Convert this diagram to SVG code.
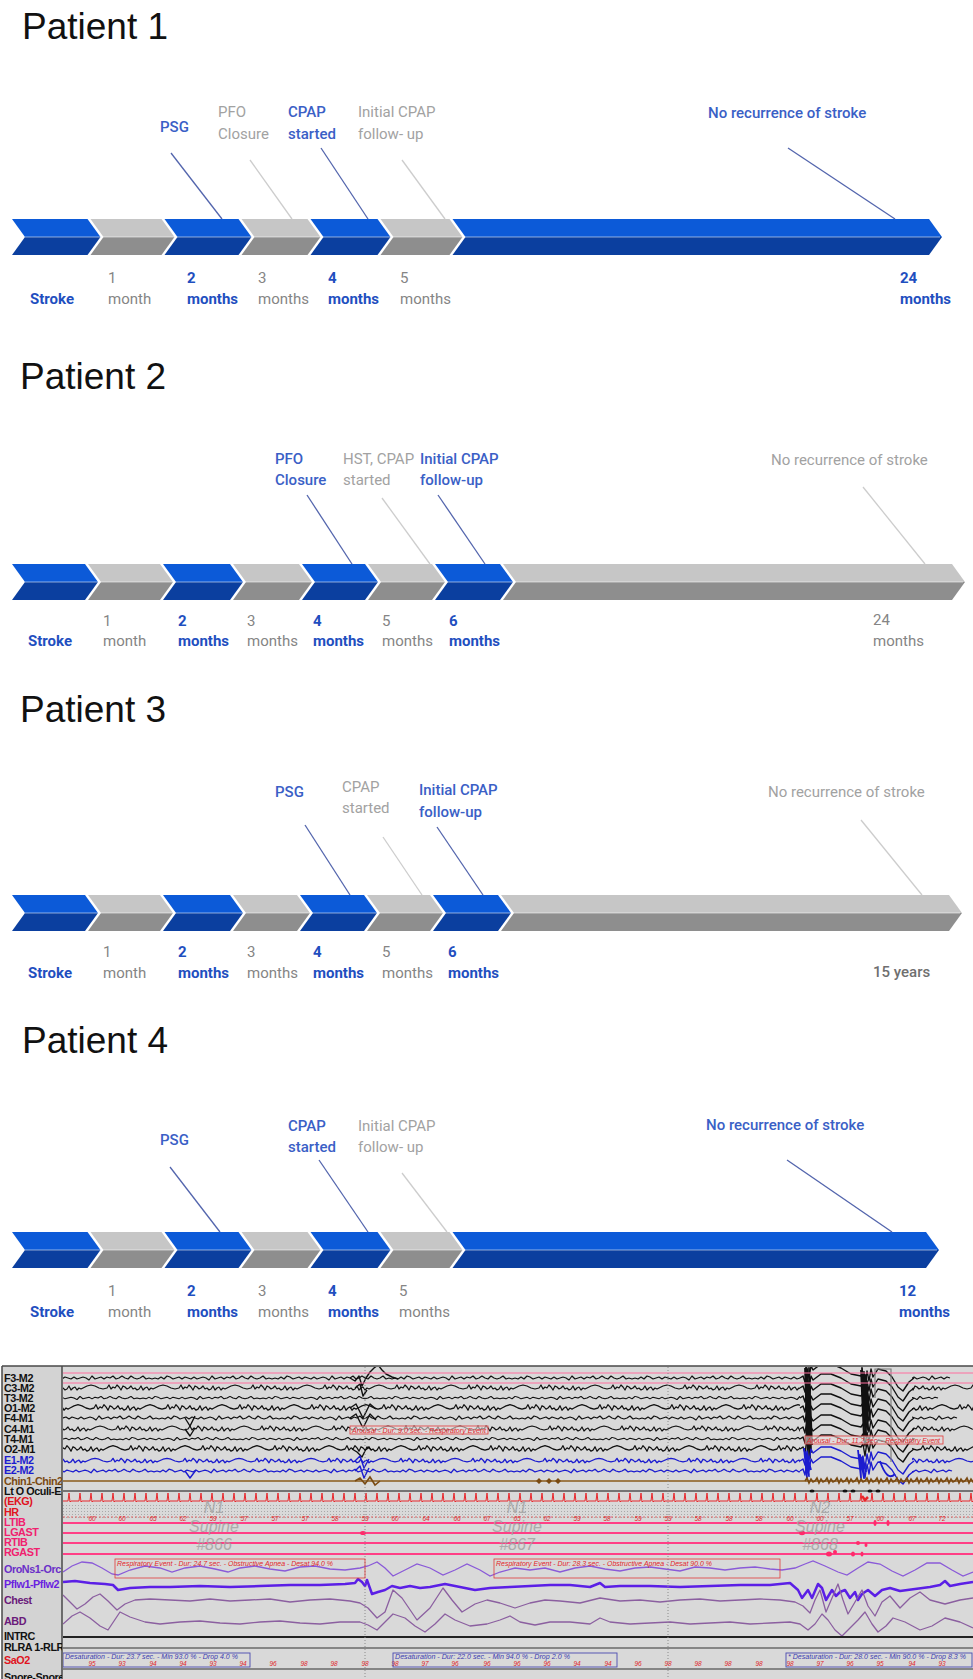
<svg xmlns="http://www.w3.org/2000/svg" width="973" height="1679" viewBox="0 0 973 1679">
<style>
.t{font-family:"Liberation Sans",Arial,sans-serif;font-size:37px;fill:#111}
.lab{font-family:Roboto,"Liberation Sans",Arial,sans-serif;font-size:15px}
.bb{fill:#1f4fbf;font-weight:bold}
.bg{fill:#858585}
.tb{fill:#3a60c6;font-weight:500}
.tg{fill:#a2a2a2}
.bu{fill:#0c5ad8}.bl{fill:#0b3f9f}.gu{fill:#c6c6c6}.gl{fill:#8e8e8e}
.mid{stroke:#fff;stroke-opacity:.55;stroke-width:1.2;fill:none}
.lnb{stroke:#5365ad;stroke-width:1.3;fill:none}
.lng{stroke:#cdcdcd;stroke-width:1.3;fill:none}
.ch{font-family:"Liberation Sans",Arial,sans-serif;font-size:10.8px;font-weight:bold;letter-spacing:-0.45px}
.sm{font-family:"Liberation Sans",Arial,sans-serif;font-size:6.5px;font-style:italic}
.num{fill:#e0262b;text-anchor:middle}
.st{font-family:"Liberation Sans",Arial,sans-serif;font-size:16px;font-style:italic;fill:#a3a3a3;text-anchor:middle;opacity:.85}
.k{stroke:#111;fill:none;stroke-width:1.2;stroke-linejoin:round}
.bk{stroke:#111;fill:none;stroke-width:1.4;stroke-linejoin:round}
.bl2{stroke:#1c1ccf;fill:none;stroke-width:1.4;stroke-linejoin:round}
.pk{stroke:#ff3f86;stroke-width:1.8;fill:none}
.pur{fill:none;stroke:#8b5fa0;stroke-width:1.3;stroke-linejoin:round}
</style>
<defs>
<path id="eeg" d="M0,0 l3,-2 3,3 3,-1 3,-2 3,2 3,1 3,-3 3,2 3,1 3,-1 3,-2 3,3 3,-1 3,1 3,-1 l3,1 3,-2 3,2 3,-3 3,1 3,2 3,-1 3,-1 3,2 3,-2 3,1 3,1 3,-2 3,2 3,-1 l3,-1 3,1 3,2 3,-4 3,3 3,-1 3,-1 3,2 3,-2 3,1 l3,-2 3,3 3,-1 3,-2 3,2 3,1 3,-3 3,2 3,1 3,-1 3,-2 3,3 3,-1 3,1 3,-1 l3,1 3,-2 3,2 3,-3 3,1 3,2 3,-1 3,-1 3,2 3,-2 3,1 3,1 3,-2 3,2 3,-1 l3,-1 3,1 3,2 3,-4 3,3 3,-1 3,-1 3,2 3,-2 3,1 l3,-2 3,3 3,-1 3,-2 3,2 3,1 3,-3 3,2 3,1 3,-1 3,-2 3,3 3,-1 3,1 3,-1 l3,1 3,-2 3,2 3,-3 3,1 3,2 3,-1 3,-1 3,2 3,-2 3,1 3,1 3,-2 3,2 3,-1 l3,-1 3,1 3,2 3,-4 3,3 3,-1 3,-1 3,2 3,-2 3,1 l3,-2 3,3 3,-1 3,-2 3,2 3,1 3,-3 3,2 3,1 3,-1 3,-2 3,3 3,-1 3,1 3,-1 l3,1 3,-2 3,2 3,-3 3,1 3,2 3,-1 3,-1 3,2 3,-2 3,1 3,1 3,-2 3,2 3,-1 l3,-1 3,1 3,2 3,-4 3,3 3,-1 3,-1 3,2 3,-2 3,1 l3,-2 3,3 3,-1 3,-2 3,2 3,1 3,-3 3,2 3,1 3,-1 3,-2 3,3 3,-1 3,1 3,-1 l3,1 3,-2 3,2 3,-3 3,1 3,2 3,-1 3,-1 3,2 3,-2 3,1 3,1 3,-2 3,2 3,-1 l3,-1 3,1 3,2 3,-4 3,3 3,-1 3,-1 3,2 3,-2 3,1 l3,-2 3,3 3,-1 3,-2 3,2 3,1 3,-3 3,2 3,1 3,-1 3,-2 3,3 3,-1 3,1 3,-1 l3,1 3,-2 3,2 3,-3 3,1 3,2 3,-1 3,-1 3,2 3,-2 3,1 3,1 3,-2 3,2 3,-1 l3,-1 3,1 3,2 3,-4 3,3 3,-1 3,-1 3,2 3,-2 3,1 l3,-2 3,3 3,-1 3,-2 3,2 3,1 3,-3 3,2 3,1 3,-1 3,-2 3,3 3,-1 3,1 3,-1 l3,1 3,-2 3,2 3,-3 3,1 3,2 3,-1 3,-1 3,2 3,-2 3,1 3,1 3,-2 3,2 3,-1 l3,-1 3,1 3,2 3,-4 3,3 3,-1 3,-1 3,2 3,-2 3,1 l3,-2 3,3 3,-1 3,-2 3,2 3,1 3,-3 3,2 3,1 3,-1 3,-2 3,3 3,-1 3,1 3,-1 l3,1 3,-2 3,2 3,-3 3,1 3,2 3,-1 3,-1 3,2 3,-2 3,1 3,1 3,-2 3,2 3,-1 l3,-1 3,1 3,2 3,-4 3,3 3,-1 3,-1 3,2 3,-2 3,1"/>
<path id="eeg2" d="M0,0 l2,-3 2,4 2,-2 2,1 2,-3 2,2 2,3 2,-4 2,1 2,2 2,-1 2,-2 2,3 2,-1 l2,2 2,-1 2,-3 2,4 2,-2 2,-1 2,3 2,-2 2,1 2,-1 l4,-2 4,-1 4,1 4,2 4,1 4,-1 l2,-3 2,4 2,-2 2,1 2,-3 2,2 2,3 2,-4 2,1 2,2 2,-1 2,-2 2,3 2,-1 l2,2 2,-1 2,-3 2,4 2,-2 2,-1 2,3 2,-2 2,1 2,-1 l4,-2 4,-1 4,1 4,2 4,1 4,-1 l2,-3 2,4 2,-2 2,1 2,-3 2,2 2,3 2,-4 2,1 2,2 2,-1 2,-2 2,3 2,-1 l2,2 2,-1 2,-3 2,4 2,-2 2,-1 2,3 2,-2 2,1 2,-1 l4,-2 4,-1 4,1 4,2 4,1 4,-1 l2,-3 2,4 2,-2 2,1 2,-3 2,2 2,3 2,-4 2,1 2,2 2,-1 2,-2 2,3 2,-1 l2,2 2,-1 2,-3 2,4 2,-2 2,-1 2,3 2,-2 2,1 2,-1 l4,-2 4,-1 4,1 4,2 4,1 4,-1 l2,-3 2,4 2,-2 2,1 2,-3 2,2 2,3 2,-4 2,1 2,2 2,-1 2,-2 2,3 2,-1 l2,2 2,-1 2,-3 2,4 2,-2 2,-1 2,3 2,-2 2,1 2,-1 l4,-2 4,-1 4,1 4,2 4,1 4,-1 l2,-3 2,4 2,-2 2,1 2,-3 2,2 2,3 2,-4 2,1 2,2 2,-1 2,-2 2,3 2,-1 l2,2 2,-1 2,-3 2,4 2,-2 2,-1 2,3 2,-2 2,1 2,-1 l4,-2 4,-1 4,1 4,2 4,1 4,-1 l2,-3 2,4 2,-2 2,1 2,-3 2,2 2,3 2,-4 2,1 2,2 2,-1 2,-2 2,3 2,-1 l2,2 2,-1 2,-3 2,4 2,-2 2,-1 2,3 2,-2 2,1 2,-1 l4,-2 4,-1 4,1 4,2 4,1 4,-1 l2,-3 2,4 2,-2 2,1 2,-3 2,2 2,3 2,-4 2,1 2,2 2,-1 2,-2 2,3 2,-1 l2,2 2,-1 2,-3 2,4 2,-2 2,-1 2,3 2,-2 2,1 2,-1 l4,-2 4,-1 4,1 4,2 4,1 4,-1 l2,-3 2,4 2,-2 2,1 2,-3 2,2 2,3 2,-4 2,1 2,2 2,-1 2,-2 2,3 2,-1 l2,2 2,-1 2,-3 2,4 2,-2 2,-1 2,3 2,-2 2,1 2,-1 l4,-2 4,-1 4,1 4,2 4,1 4,-1 l2,-3 2,4 2,-2 2,1 2,-3 2,2 2,3 2,-4 2,1 2,2 2,-1 2,-2 2,3 2,-1 l2,2 2,-1 2,-3 2,4 2,-2 2,-1 2,3 2,-2 2,1 2,-1 l4,-2 4,-1 4,1 4,2 4,1 4,-1 l2,-3 2,4 2,-2 2,1 2,-3 2,2 2,3 2,-4 2,1 2,2 2,-1 2,-2 2,3 2,-1 l2,2 2,-1 2,-3 2,4 2,-2 2,-1 2,3 2,-2 2,1 2,-1 l4,-2 4,-1 4,1 4,2 4,1 4,-1 l2,-3 2,4 2,-2 2,1 2,-3 2,2 2,3 2,-4 2,1 2,2 2,-1 2,-2 2,3 2,-1 l2,2 2,-1 2,-3 2,4 2,-2 2,-1 2,3 2,-2 2,1 2,-1 l4,-2 4,-1 4,1 4,2 4,1 4,-1 l2,-3 2,4 2,-2 2,1 2,-3 2,2 2,3 2,-4 2,1 2,2 2,-1 2,-2 2,3 2,-1 l2,2 2,-1 2,-3 2,4 2,-2 2,-1 2,3 2,-2 2,1 2,-1 l4,-2 4,-1 4,1 4,2 4,1 4,-1 l2,-3 2,4 2,-2 2,1 2,-3 2,2 2,3 2,-4 2,1 2,2 2,-1 2,-2 2,3 2,-1 l2,2 2,-1 2,-3 2,4 2,-2 2,-1 2,3 2,-2 2,1 2,-1 l4,-2 4,-1 4,1 4,2 4,1 4,-1 l2,-3 2,4 2,-2 2,1 2,-3 2,2 2,3 2,-4 2,1 2,2 2,-1 2,-2 2,3 2,-1 l2,2 2,-1 2,-3 2,4 2,-2 2,-1 2,3 2,-2 2,1 2,-1 l4,-2 4,-1 4,1 4,2 4,1 4,-1"/>
<path id="arz" d="M800,0 l3,-2 2,6 2,-14 2,10 2,-12 2,4 l8,-6 10,0 10,4 10,6 10,2 l2,-3 2,12 2,-14 2,10 2,-12 2,8 l5,-8 8,2 6,6 6,10 5,4 6,-9 5,-4"/>
<pattern id="ekg" x="63" y="1492" width="11" height="12" patternUnits="userSpaceOnUse"><path d="M0,9H5L6,1L7,10L8,9H11" stroke="#e8262b" fill="none" stroke-width="1"/></pattern>
<pattern id="dots" x="63" y="1505" width="3" height="3" patternUnits="userSpaceOnUse"><rect width="1" height="1" fill="#a9a9a9"/></pattern>
<clipPath id="tc"><rect x="63" y="1367" width="910" height="312"/></clipPath>
<clipPath id="lc"><rect x="2" y="1367" width="60" height="312"/></clipPath>
</defs>
<rect width="973" height="1679" fill="#fff"/>

<g id="patient1">
<text class="t" x="22" y="39">Patient 1</text>
<g transform="translate(0,219)">
<path class="bu" d="M12,0H87.5L100.5,18H25Z"/><path class="bl" d="M25,18H100.5L87.5,36H12Z"/>
<path class="gu" d="M90.5,0H161.5L174.5,18H103.5Z"/><path class="gl" d="M103.5,18H174.5L161.5,36H90.5Z"/>
<path class="bu" d="M164.5,0H238.5L251.5,18H177.5Z"/><path class="bl" d="M177.5,18H251.5L238.5,36H164.5Z"/>
<path class="gu" d="M241.5,0H307.5L320.5,18H254.5Z"/><path class="gl" d="M254.5,18H320.5L307.5,36H241.5Z"/>
<path class="bu" d="M310.5,0H377.5L390.5,18H323.5Z"/><path class="bl" d="M323.5,18H390.5L377.5,36H310.5Z"/>
<path class="gu" d="M380.5,0H449.5L462.5,18H393.5Z"/><path class="gl" d="M393.5,18H462.5L449.5,36H380.5Z"/>
<path class="bu" d="M452.5,0H929L942,18H465.5Z"/><path class="bl" d="M465.5,18H942L929,36H452.5Z"/>
<path class="mid" d="M25,18H940"/>
</g>
<text class="lab bb" x="30" y="304">Stroke</text>
<text class="lab bg" x="108" y="283">1</text><text class="lab bg" x="108" y="304">month</text>
<text class="lab bb" x="187" y="283">2</text><text class="lab bb" x="187" y="304">months</text>
<text class="lab bg" x="258" y="283">3</text><text class="lab bg" x="258" y="304">months</text>
<text class="lab bb" x="328" y="283">4</text><text class="lab bb" x="328" y="304">months</text>
<text class="lab bg" x="400" y="283">5</text><text class="lab bg" x="400" y="304">months</text>
<text class="lab bb" x="900" y="283">24</text><text class="lab bb" x="900" y="304">months</text>
<text class="lab tb" x="160" y="132">PSG</text>
<text class="lab tg" x="218" y="117">PFO</text><text class="lab tg" x="218" y="139">Closure</text>
<text class="lab tb" x="288" y="117">CPAP</text><text class="lab tb" x="288" y="139">started</text>
<text class="lab tg" x="358" y="117">Initial CPAP</text><text class="lab tg" x="358" y="139">follow- up</text>
<text class="lab tb" x="708" y="118">No recurrence of stroke</text>
</g>

<g id="patient2">
<text class="t" x="20" y="389">Patient 2</text>
<g transform="translate(0,564)">
<path class="bu" d="M12,0H85L98,18H25Z"/><path class="bl" d="M25,18H98L85,36H12Z"/>
<path class="gu" d="M88,0H160L173,18H101Z"/><path class="gl" d="M101,18H173L160,36H88Z"/>
<path class="bu" d="M163,0H230L243,18H176Z"/><path class="bl" d="M176,18H243L230,36H163Z"/>
<path class="gu" d="M233,0H299L312,18H246Z"/><path class="gl" d="M246,18H312L299,36H233Z"/>
<path class="bu" d="M302,0H365L378,18H315Z"/><path class="bl" d="M315,18H378L365,36H302Z"/>
<path class="gu" d="M368,0H432L445,18H381Z"/><path class="gl" d="M381,18H445L432,36H368Z"/>
<path class="bu" d="M435,0H500L513,18H448Z"/><path class="bl" d="M448,18H513L500,36H435Z"/>
<path class="gu" d="M503,0H952L965,18H516Z"/><path class="gl" d="M516,18H965L952,36H503Z"/>
<path class="mid" d="M25,18H963"/>
</g>
<text class="lab bb" x="28" y="646">Stroke</text>
<text class="lab bg" x="103" y="626">1</text><text class="lab bg" x="103" y="646">month</text>
<text class="lab bb" x="178" y="626">2</text><text class="lab bb" x="178" y="646">months</text>
<text class="lab bg" x="247" y="626">3</text><text class="lab bg" x="247" y="646">months</text>
<text class="lab bb" x="313" y="626">4</text><text class="lab bb" x="313" y="646">months</text>
<text class="lab bg" x="382" y="626">5</text><text class="lab bg" x="382" y="646">months</text>
<text class="lab bb" x="449" y="626">6</text><text class="lab bb" x="449" y="646">months</text>
<text class="lab bg" x="873" y="625">24</text><text class="lab bg" x="873" y="646">months</text>
<text class="lab tb" x="275" y="464">PFO</text><text class="lab tb" x="275" y="485">Closure</text>
<text class="lab tg" x="343" y="464">HST, CPAP</text><text class="lab tg" x="343" y="485">started</text>
<text class="lab tb" x="420" y="464">Initial CPAP</text><text class="lab tb" x="420" y="485">follow-up</text>
<text class="lab tg" x="771" y="465">No recurrence of stroke</text>
</g>

<g id="patient3">
<text class="t" x="20" y="722">Patient 3</text>
<g transform="translate(0,895)">
<path class="bu" d="M12,0H85L98,18H25Z"/><path class="bl" d="M25,18H98L85,36H12Z"/>
<path class="gu" d="M88,0H160L173,18H101Z"/><path class="gl" d="M101,18H173L160,36H88Z"/>
<path class="bu" d="M163,0H230L243,18H176Z"/><path class="bl" d="M176,18H243L230,36H163Z"/>
<path class="gu" d="M233,0H297L310,18H246Z"/><path class="gl" d="M246,18H310L297,36H233Z"/>
<path class="bu" d="M300,0H364L377,18H313Z"/><path class="bl" d="M313,18H377L364,36H300Z"/>
<path class="gu" d="M367,0H430L443,18H380Z"/><path class="gl" d="M380,18H443L430,36H367Z"/>
<path class="bu" d="M433,0H498L511,18H446Z"/><path class="bl" d="M446,18H511L498,36H433Z"/>
<path class="gu" d="M501,0H949L962,18H514Z"/><path class="gl" d="M514,18H962L949,36H501Z"/>
<path class="mid" d="M25,18H960"/>
</g>
<text class="lab bb" x="28" y="978">Stroke</text>
<text class="lab bg" x="103" y="957">1</text><text class="lab bg" x="103" y="978">month</text>
<text class="lab bb" x="178" y="957">2</text><text class="lab bb" x="178" y="978">months</text>
<text class="lab bg" x="247" y="957">3</text><text class="lab bg" x="247" y="978">months</text>
<text class="lab bb" x="313" y="957">4</text><text class="lab bb" x="313" y="978">months</text>
<text class="lab bg" x="382" y="957">5</text><text class="lab bg" x="382" y="978">months</text>
<text class="lab bb" x="448" y="957">6</text><text class="lab bb" x="448" y="978">months</text>
<text class="lab bg" x="873" y="977" style="font-weight:500;fill:#6f6f6f">15 years</text>
<text class="lab tb" x="275" y="797">PSG</text>
<text class="lab tg" x="342" y="792">CPAP</text><text class="lab tg" x="342" y="813">started</text>
<text class="lab tb" x="419" y="795">Initial CPAP</text><text class="lab tb" x="419" y="817">follow-up</text>
<text class="lab tg" x="768" y="797">No recurrence of stroke</text>
</g>

<g id="patient4">
<text class="t" x="22" y="1053">Patient 4</text>
<g transform="translate(0,1232)">
<path class="bu" d="M12,0H87.5L100.5,18H25Z"/><path class="bl" d="M25,18H100.5L87.5,36H12Z"/>
<path class="gu" d="M90.5,0H161.5L174.5,18H103.5Z"/><path class="gl" d="M103.5,18H174.5L161.5,36H90.5Z"/>
<path class="bu" d="M164.5,0H238.5L251.5,18H177.5Z"/><path class="bl" d="M177.5,18H251.5L238.5,36H164.5Z"/>
<path class="gu" d="M241.5,0H307.5L320.5,18H254.5Z"/><path class="gl" d="M254.5,18H320.5L307.5,36H241.5Z"/>
<path class="bu" d="M310.5,0H377.5L390.5,18H323.5Z"/><path class="bl" d="M323.5,18H390.5L377.5,36H310.5Z"/>
<path class="gu" d="M380.5,0H449.5L462.5,18H393.5Z"/><path class="gl" d="M393.5,18H462.5L449.5,36H380.5Z"/>
<path class="bu" d="M452.5,0H926L939,18H465.5Z"/><path class="bl" d="M465.5,18H939L926,36H452.5Z"/>
<path class="mid" d="M25,18H937"/>
</g>
<text class="lab bb" x="30" y="1317">Stroke</text>
<text class="lab bg" x="108" y="1296">1</text><text class="lab bg" x="108" y="1317">month</text>
<text class="lab bb" x="187" y="1296">2</text><text class="lab bb" x="187" y="1317">months</text>
<text class="lab bg" x="258" y="1296">3</text><text class="lab bg" x="258" y="1317">months</text>
<text class="lab bb" x="328" y="1296">4</text><text class="lab bb" x="328" y="1317">months</text>
<text class="lab bg" x="399" y="1296">5</text><text class="lab bg" x="399" y="1317">months</text>
<text class="lab bb" x="899" y="1296">12</text><text class="lab bb" x="899" y="1317">months</text>
<text class="lab tb" x="160" y="1145">PSG</text>
<text class="lab tb" x="288" y="1131">CPAP</text><text class="lab tb" x="288" y="1152">started</text>
<text class="lab tg" x="358" y="1131">Initial CPAP</text><text class="lab tg" x="358" y="1152">follow- up</text>
<text class="lab tb" x="706" y="1130">No recurrence of stroke</text>
</g>

<g id="connectors">
<path class="lnb" d="M171,153L222,219"/><path class="lng" d="M250,160L292,219"/><path class="lnb" d="M321,148L368,219"/><path class="lng" d="M402,160L445,219"/><path class="lnb" d="M788,148L895,219"/>
<path class="lnb" d="M307,495L352,564"/><path class="lng" d="M382,498L430,564"/><path class="lnb" d="M438,495L485,564"/><path class="lng" d="M863,487L925,564"/>
<path class="lnb" d="M305,825L350,895"/><path class="lng" d="M383,837L422,895"/><path class="lnb" d="M437,827L483,895"/><path class="lng" d="M861,820L922,895"/>
<path class="lnb" d="M170,1167L220,1232"/><path class="lnb" d="M319,1160L368,1232"/><path class="lng" d="M402,1173L447,1232"/><path class="lnb" d="M787,1160L892,1232"/>
</g>

<g id="psg-recording">
<rect x="2" y="1366" width="971" height="313" fill="#d9d9d9"/>
<rect x="2" y="1366" width="60" height="313" fill="#d3d3d3"/>
<path d="M2,1366H973M2,1366V1679M62,1366V1679" stroke="#4a4a4a" stroke-width="1.5" fill="none"/>
<g clip-path="url(#lc)">
<text class="ch" x="4" y="1382" fill="#111">F3-M2</text>
<text class="ch" x="4" y="1392" fill="#111">C3-M2</text>
<text class="ch" x="4" y="1402" fill="#111">T3-M2</text>
<text class="ch" x="4" y="1412" fill="#111">O1-M2</text>
<text class="ch" x="4" y="1422" fill="#111">F4-M1</text>
<text class="ch" x="4" y="1433" fill="#111">C4-M1</text>
<text class="ch" x="4" y="1443" fill="#111">T4-M1</text>
<text class="ch" x="4" y="1453" fill="#111">O2-M1</text>
<text class="ch" x="4" y="1464" fill="#1c1ccf">E1-M2</text>
<text class="ch" x="4" y="1474" fill="#1c1ccf">E2-M2</text>
<text class="ch" x="4" y="1485" fill="#7a4a12">Chin1-Chin2</text>
<text class="ch" x="4" y="1495" fill="#111">Lt O Oculi-E:</text>
<text class="ch" x="4" y="1505" fill="#e0141e">(EKG)</text>
<text class="ch" x="4" y="1516" fill="#e0141e">HR</text>
<text class="ch" x="4" y="1526" fill="#f0206e">LTIB</text>
<text class="ch" x="4" y="1536" fill="#f0206e">LGAST</text>
<text class="ch" x="4" y="1546" fill="#f0206e">RTIB</text>
<text class="ch" x="4" y="1556" fill="#f0206e">RGAST</text>
<text class="ch" x="4" y="1573" fill="#6a2fc8">OroNs1-Orc</text>
<text class="ch" x="4" y="1588" fill="#6a22e0">Pflw1-Pflw2</text>
<text class="ch" x="4" y="1604" fill="#6a1a7a">Chest</text>
<text class="ch" x="4" y="1625" fill="#6a1a7a">ABD</text>
<text class="ch" x="4" y="1640" fill="#111">INTRC</text>
<text class="ch" x="4" y="1651" fill="#111">RLRA 1-RLR</text>
<text class="ch" x="4" y="1664" fill="#e0141e">SaO2</text>
<text class="ch" x="4" y="1681" fill="#111">Snore-Snore</text>
</g>
<g clip-path="url(#tc)">
<rect x="63" y="1505" width="910" height="13" fill="url(#dots)"/>
<path d="M63,1517H973" stroke="#e04848" stroke-width=".8" stroke-dasharray="2,2"/>
<g class="k">
<use href="#eeg" transform="translate(-10,1378)"/>
<use href="#eeg2" transform="translate(-37,1388)"/>
<use href="#eeg" transform="translate(-22,1398) scale(1,0.8)"/>
<use href="#eeg2" transform="translate(-50,1408) scale(1,1.1)"/>
<use href="#eeg" transform="translate(-3,1418)"/>
<use href="#eeg2" transform="translate(-28,1429)"/>
<use href="#eeg" transform="translate(-45,1439) scale(1,0.8)"/>
<use href="#eeg2" transform="translate(-15,1449) scale(1,1.1)"/>
</g>
<g class="bl2">
<use href="#eeg2" transform="translate(-33,1461) scale(1,0.9)"/>
<use href="#eeg" transform="translate(-8,1471) scale(1,0.9)"/>
</g>
<path class="bk" d="M350,1378L355,1381L359,1376L362,1386L366,1378L370,1372L374,1368L378,1365L382,1370L386,1374L392,1377L398,1379"/>
<path class="bk" d="M355,1388L360,1384L363,1396L367,1390"/>
<path class="bk" d="M350,1408L356,1404L363,1418L370,1404L376,1409"/>
<path class="bk" d="M350,1418L356,1414L363,1428L370,1414L376,1420"/>
<path class="bk" d="M352,1449L357,1452L362,1457L367,1447L372,1450"/>
<path class="bk" d="M185,1418L190,1426L195,1416M185,1429L190,1436L195,1428"/>
<path class="bl2" d="M355,1461L360,1456L364,1468L369,1459M355,1471L360,1466L364,1478L369,1468M185,1471L190,1478L196,1470"/>
<rect x="800" y="1367" width="112" height="112" fill="#d9d9d9"/>
<g class="bk">
<use href="#arz" transform="translate(0,1378)"/>
<use href="#arz" transform="translate(0,1388)"/>
<use href="#arz" transform="translate(0,1398)"/>
<use href="#arz" transform="translate(0,1408)"/>
<use href="#arz" transform="translate(0,1418)"/>
<use href="#arz" transform="translate(0,1429)"/>
<use href="#arz" transform="translate(0,1439)"/>
<use href="#arz" transform="translate(0,1449)"/>
<path d="M805,1368L808,1462L806,1366L810,1458L807,1372L811,1452L809,1368L812,1445" stroke-width="1.8"/>
<path d="M861,1370L864,1440L862,1368L866,1436L864,1372L868,1430L866,1375L870,1420" stroke-width="1.8"/>
</g>
<g class="bl2">
<use href="#arz" transform="translate(0,1461)"/>
<use href="#arz" transform="translate(0,1471)"/>
<path d="M804,1448L807,1478L805,1452L809,1476L807,1455L811,1470M858,1450L861,1478L860,1455L864,1478L862,1458L866,1472M880,1461Q887,1482 895,1474" stroke-width="1.8"/>
</g>
<path d="M875,1398V1369H891V1462" stroke="#7f7f7f" stroke-width="1.2" fill="none"/>
<path d="M63,1373H973M63,1383H973" stroke="#ff6f9f" stroke-width="1"/>
<path d="M63,1481H973" stroke="#8a5a1a" stroke-width="1.5"/>
<path d="M355,1481L360,1478L365,1484L370,1477L375,1485L380,1481M805,1481l2,-3 2,5 2,-4 2,3 2,-1 2,-3 2,5 2,-4 2,3 2,-1 2,-3 2,5 2,-4 2,3 2,-1 2,-3 2,5 2,-4 2,3 2,-1 2,-3 2,5 2,-4 2,3 2,-1 2,-3 2,5 2,-4 2,3 2,-1 2,-3 2,5 2,-4 2,3 2,-1 2,-3 2,5 2,-4 2,3 2,-1 2,-3 2,5 2,-4 2,3 2,-1 2,-3 2,5 2,-4 2,3 2,-1 2,-3 2,5 2,-4 2,3 2,-1 2,-3 2,5 2,-4 2,3 2,-1 2,-3 2,5 2,-4 2,3 2,-1 2,-3 2,5 2,-4 2,3 2,-1 2,-3 2,5 2,-4 2,3 2,-1 2,-3 2,5 2,-4 2,3 2,-1 2,-3 2,5 2,-4 2,3 2,-1 2,-3 2,5 2,-4 2,3 2,-1 2,-3 2,5 2,-4 2,3 2,-1" stroke="#7a4a12" stroke-width="1.6" fill="none"/>
<path d="M536,1481l3,-3 3,3 -3,3zM546,1481l3,-3 3,3 -3,3zM555,1481l3,-3 3,3 -3,3z" fill="#7a4a12"/>
<path d="M63,1491H973" stroke="#111" stroke-width="1.2"/>
<g fill="#111"><ellipse cx="812" cy="1491" rx="2.5" ry="1.6"/><ellipse cx="845" cy="1491" rx="2.5" ry="1.6"/><ellipse cx="853" cy="1491" rx="2.5" ry="1.6"/><ellipse cx="870" cy="1491" rx="2.5" ry="1.6"/><ellipse cx="878" cy="1491" rx="2.5" ry="1.6"/></g>
<rect x="63" y="1492" width="910" height="12" fill="url(#ekg)"/>
<path d="M862,1496l3,4 3,-3" stroke="#e8262b" stroke-width="2.5" fill="none"/>
<path class="pk" d="M63,1523H973M63,1533H973M63,1543H973M63,1554H973"/>
<g fill="#ff2a6a"><ellipse cx="363" cy="1533" rx="3" ry="2"/><ellipse cx="802" cy="1533" rx="3" ry="2.2"/><ellipse cx="829" cy="1554" rx="3" ry="2.5"/><ellipse cx="835" cy="1552" rx="2" ry="2"/><ellipse cx="875" cy="1523" rx="1.5" ry="3"/><ellipse cx="888" cy="1523" rx="1.5" ry="3"/><ellipse cx="858" cy="1543" rx="2" ry="2"/><ellipse cx="866" cy="1545" rx="1.5" ry="2"/><ellipse cx="853" cy="1554" rx="2" ry="2.5"/><ellipse cx="862" cy="1554" rx="1.5" ry="2.5"/></g>
<g class="sm num">
<text><tspan x="92" y="1521">60</tspan><tspan x="122" y="1521">60</tspan><tspan x="153" y="1521">65</tspan><tspan x="183" y="1521">62</tspan><tspan x="213" y="1521">59</tspan><tspan x="244" y="1521">57</tspan><tspan x="275" y="1521">57</tspan><tspan x="305" y="1521">57</tspan><tspan x="335" y="1521">58</tspan><tspan x="365" y="1521">59</tspan><tspan x="395" y="1521">60</tspan><tspan x="426" y="1521">64</tspan><tspan x="457" y="1521">66</tspan><tspan x="487" y="1521">67</tspan><tspan x="517" y="1521">65</tspan><tspan x="547" y="1521">62</tspan><tspan x="577" y="1521">59</tspan><tspan x="607" y="1521">58</tspan><tspan x="638" y="1521">59</tspan><tspan x="668" y="1521">59</tspan><tspan x="698" y="1521">58</tspan><tspan x="729" y="1521">58</tspan><tspan x="759" y="1521">58</tspan><tspan x="790" y="1521">60</tspan><tspan x="820" y="1521">60</tspan><tspan x="850" y="1521">57</tspan><tspan x="880" y="1521">60</tspan><tspan x="912" y="1521">67</tspan><tspan x="942" y="1521">72</tspan></text>
<text><tspan x="92" y="1666">95</tspan><tspan x="122" y="1666">93</tspan><tspan x="153" y="1666">94</tspan><tspan x="183" y="1666">94</tspan><tspan x="213" y="1666">93</tspan><tspan x="243" y="1666">94</tspan><tspan x="273" y="1666">96</tspan><tspan x="304" y="1666">98</tspan><tspan x="334" y="1666">98</tspan><tspan x="365" y="1666">98</tspan><tspan x="395" y="1666">98</tspan><tspan x="425" y="1666">97</tspan><tspan x="455" y="1666">96</tspan><tspan x="487" y="1666">96</tspan><tspan x="517" y="1666">96</tspan><tspan x="547" y="1666">96</tspan><tspan x="577" y="1666">94</tspan><tspan x="608" y="1666">94</tspan><tspan x="638" y="1666">96</tspan><tspan x="668" y="1666">98</tspan><tspan x="698" y="1666">98</tspan><tspan x="728" y="1666">98</tspan><tspan x="759" y="1666">98</tspan><tspan x="790" y="1666">98</tspan><tspan x="820" y="1666">97</tspan><tspan x="850" y="1666">96</tspan><tspan x="880" y="1666">95</tspan><tspan x="912" y="1666">94</tspan><tspan x="942" y="1666">93</tspan></text>
</g>
<text class="st" x="214" y="1513">N1</text><text class="st" x="214" y="1532">Supine</text><text class="st" x="214" y="1550">#866</text>
<text class="st" x="517" y="1513">N1</text><text class="st" x="517" y="1532">Supine</text><text class="st" x="517" y="1550">#867</text>
<text class="st" x="820" y="1513">N2</text><text class="st" x="820" y="1532">Supine</text><text class="st" x="820" y="1550">#868</text>
<polyline points="63,1572 72,1566 82,1562 92,1563 102,1568 112,1574 118,1575 130,1570 145,1566 160,1568 172,1572 185,1568 200,1566 215,1569 228,1572 240,1568 255,1566 270,1569 285,1571 300,1567 315,1566 330,1569 345,1570 360,1568 368,1566 377,1562 385,1568 393,1576 405,1570 417,1564 430,1568 443,1575 455,1570 467,1564 480,1570 490,1576 500,1572 515,1568 530,1570 545,1568 560,1572 575,1568 590,1566 605,1569 620,1571 635,1568 650,1567 665,1569 680,1571 695,1567 710,1568 725,1570 740,1568 755,1567 770,1569 782,1570 795,1568 805,1564 813,1561 825,1566 838,1572 847,1575 858,1568 868,1562 880,1564 892,1571 903,1576 915,1570 927,1563 940,1563 952,1570 963,1576 973,1572" fill="none" stroke="#8a5ad8" stroke-width="1.3"/>
<polyline points="63,1582 75,1581 90,1583 105,1584 113,1585 118,1590 130,1588 150,1587 170,1587 200,1586 230,1587 260,1586 290,1585 320,1585 345,1584 355,1583 358,1579 362,1582 365,1586 367,1580 372,1594 378,1592 385,1590 392,1586 400,1588 410,1586 420,1588 430,1587 445,1584 460,1587 475,1590 490,1588 510,1587 530,1586 550,1585 570,1585 590,1587 600,1583 605,1587 620,1586 650,1586 680,1587 710,1586 740,1585 770,1585 790,1583 798,1590 802,1598 808,1590 812,1598 818,1584 822,1588 826,1600 832,1590 836,1596 840,1592 845,1590 850,1598 855,1592 858,1600 862,1594 868,1590 875,1596 882,1590 890,1588 900,1591 915,1589 930,1587 940,1585 945,1581 950,1586 960,1584 973,1582" fill="none" stroke="#5b1fe6" stroke-width="2.5" stroke-linejoin="round"/>
<polyline class="pur" points="63,1595 70,1602 77,1609 85,1604 93,1597 100,1594 108,1601 117,1610 125,1604 135,1600 150,1599 170,1600 190,1601 210,1599 230,1601 250,1600 270,1599 290,1602 310,1600 330,1599 350,1601 360,1603 368,1608 377,1618 385,1612 393,1590 402,1598 417,1620 430,1608 443,1588 452,1600 462,1612 475,1604 487,1600 500,1603 515,1608 530,1603 545,1600 560,1601 580,1603 600,1598 620,1601 640,1600 660,1602 680,1600 700,1599 720,1601 740,1600 760,1599 780,1600 795,1602 803,1606 810,1613 815,1600 820,1590 826,1612 832,1598 838,1584 843,1600 848,1614 855,1602 862,1590 868,1606 875,1616 882,1602 890,1596 900,1608 910,1598 920,1592 930,1600 945,1604 960,1600 973,1598"/>
<polyline class="pur" points="63,1624 72,1616 80,1612 90,1618 100,1626 108,1630 116,1618 120,1612 130,1617 145,1622 160,1624 180,1622 200,1621 220,1623 240,1624 260,1622 280,1621 300,1623 320,1624 340,1622 360,1622 368,1625 377,1630 385,1622 393,1614 405,1618 415,1626 425,1632 435,1624 445,1614 455,1620 470,1626 487,1624 500,1620 510,1616 520,1622 535,1625 550,1622 570,1622 590,1624 600,1618 610,1622 630,1624 650,1623 670,1622 690,1624 710,1623 730,1622 750,1624 770,1623 790,1622 800,1624 808,1630 815,1624 822,1614 828,1620 835,1630 842,1636 850,1628 858,1620 865,1612 872,1624 878,1632 886,1626 893,1618 905,1622 920,1630 932,1626 945,1618 960,1622 973,1628"/>
<path d="M63,1637H973" stroke="#222" stroke-width="2"/>
<path d="M63,1648H973M63,1669H973" stroke="#333" stroke-width="1.2"/>
<path d="M365,1367V1679M668,1367V1679" stroke="#8a8a8a" stroke-width="1" stroke-dasharray="1,2"/>
<g fill="none" stroke="#e23b3b" stroke-width=".8">
<rect x="115" y="1559" width="250" height="19"/>
<rect x="494" y="1559" width="286" height="19"/>
<rect x="350" y="1426" width="138" height="8" fill="#e6dcdc" fill-opacity=".6"/>
<rect x="805" y="1436" width="138" height="8" fill="#e6dcdc" fill-opacity=".6"/>
</g>
<g class="sm" fill="#e3262b">
<text x="117" y="1566" textLength="216" lengthAdjust="spacingAndGlyphs">Respiratory Event - Dur: 24.7 sec. - Obstructive Apnea - Desat 94.0 %</text>
<text x="496" y="1566" textLength="216" lengthAdjust="spacingAndGlyphs">Respiratory Event - Dur: 28.3 sec. - Obstructive Apnea - Desat 90.0 %</text>
<text x="352" y="1432.5" textLength="134" lengthAdjust="spacingAndGlyphs">Arousal - Dur: 9.0 sec. - Respiratory Event</text>
<text x="807" y="1442.5" textLength="133" lengthAdjust="spacingAndGlyphs">Arousal - Dur: 11.2 sec. - Respiratory Event</text>
</g>
<g fill="none" stroke="#4a4ab0" stroke-width=".9">
<rect x="63" y="1653" width="187" height="14"/>
<rect x="393" y="1653" width="224" height="14"/>
<rect x="786" y="1653" width="186" height="14"/>
</g>
<g class="sm" fill="#3b3bb0">
<text x="65" y="1659" textLength="173" lengthAdjust="spacingAndGlyphs">Desaturation - Dur: 23.7 sec. - Min 93.0 % - Drop  4.0 %</text>
<text x="395" y="1659" textLength="175" lengthAdjust="spacingAndGlyphs">Desaturation - Dur: 22.0 sec. - Min 94.0 % - Drop  2.0 %</text>
<text x="788" y="1659" textLength="178" lengthAdjust="spacingAndGlyphs">* Desaturation - Dur: 28.0 sec. - Min 90.0 % - Drop  8.3 %</text>
</g>
</g>
</g>
</svg>
